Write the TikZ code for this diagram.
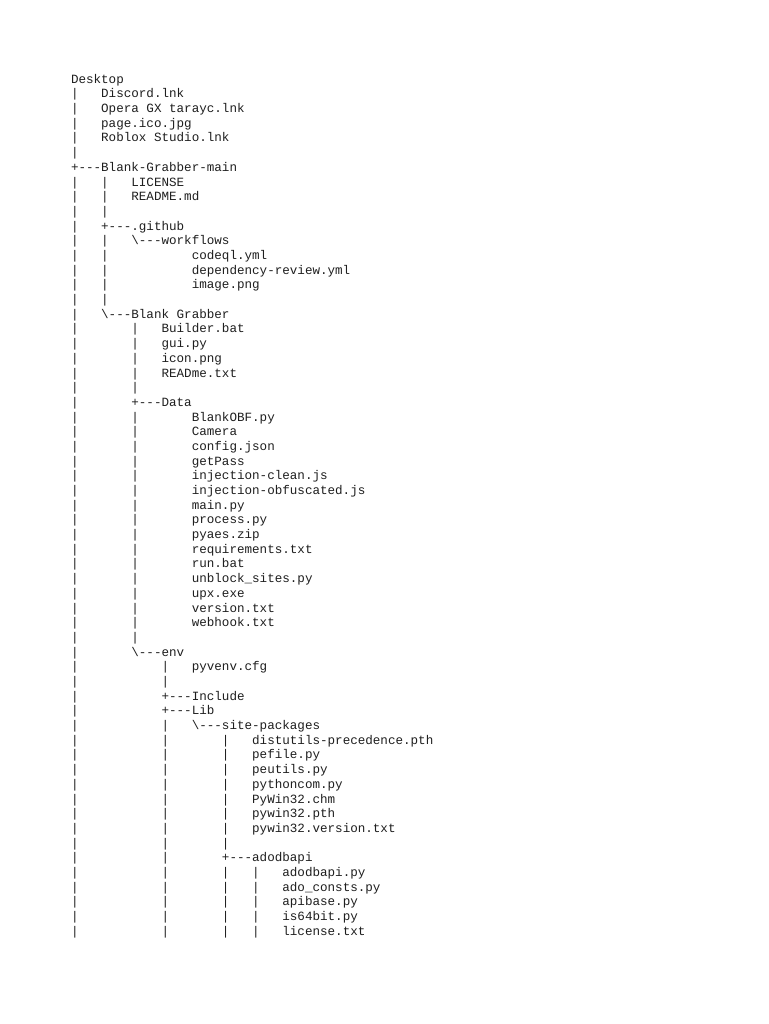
\documentclass[tikz,border=0pt]{standalone}
\usepackage{fontspec}
\setmonofont{Liberation Mono}
\tikzset{ln/.style={anchor=base west,inner sep=0pt,outer sep=0pt,font=\ttfamily\fontsize{12.58}{14}\selectfont,text=black!88}}
\newcommand{\bs}{\textbackslash}
\newcounter{ll}
\newcommand{\lin}[1]{\node[ln] (l\theltlabel) at (71,{-83.2-14.69*\value{ll}}) {\strut #1};\stepcounter{ll}}
\def\theltlabel{\arabic{ll}}
\begin{document}
\begin{tikzpicture}[x=1pt,y=1pt]
\useasboundingbox (0,0) rectangle (768,-1024);
\fill[white] (0,0) rectangle (768,-1024);
\lin{Desktop}
\lin{|~~~Discord.lnk}
\lin{|~~~Opera~GX~tarayc.lnk}
\lin{|~~~page.ico.jpg}
\lin{|~~~Roblox~Studio.lnk}
\lin{|}
\lin{+---Blank-Grabber-main}
\lin{|~~~|~~~LICENSE}
\lin{|~~~|~~~README.md}
\lin{|~~~|}
\lin{|~~~+---.github}
\lin{|~~~|~~~\bs---workflows}
\lin{|~~~|~~~~~~~~~~~codeql.yml}
\lin{|~~~|~~~~~~~~~~~dependency-review.yml}
\lin{|~~~|~~~~~~~~~~~image.png}
\lin{|~~~|}
\lin{|~~~\bs---Blank~Grabber}
\lin{|~~~~~~~|~~~Builder.bat}
\lin{|~~~~~~~|~~~gui.py}
\lin{|~~~~~~~|~~~icon.png}
\lin{|~~~~~~~|~~~READme.txt}
\lin{|~~~~~~~|}
\lin{|~~~~~~~+---Data}
\lin{|~~~~~~~|~~~~~~~BlankOBF.py}
\lin{|~~~~~~~|~~~~~~~Camera}
\lin{|~~~~~~~|~~~~~~~config.json}
\lin{|~~~~~~~|~~~~~~~getPass}
\lin{|~~~~~~~|~~~~~~~injection-clean.js}
\lin{|~~~~~~~|~~~~~~~injection-obfuscated.js}
\lin{|~~~~~~~|~~~~~~~main.py}
\lin{|~~~~~~~|~~~~~~~process.py}
\lin{|~~~~~~~|~~~~~~~pyaes.zip}
\lin{|~~~~~~~|~~~~~~~requirements.txt}
\lin{|~~~~~~~|~~~~~~~run.bat}
\lin{|~~~~~~~|~~~~~~~unblock\_sites.py}
\lin{|~~~~~~~|~~~~~~~upx.exe}
\lin{|~~~~~~~|~~~~~~~version.txt}
\lin{|~~~~~~~|~~~~~~~webhook.txt}
\lin{|~~~~~~~|}
\lin{|~~~~~~~\bs---env}
\lin{|~~~~~~~~~~~|~~~pyvenv.cfg}
\lin{|~~~~~~~~~~~|}
\lin{|~~~~~~~~~~~+---Include}
\lin{|~~~~~~~~~~~+---Lib}
\lin{|~~~~~~~~~~~|~~~\bs---site-packages}
\lin{|~~~~~~~~~~~|~~~~~~~|~~~distutils-precedence.pth}
\lin{|~~~~~~~~~~~|~~~~~~~|~~~pefile.py}
\lin{|~~~~~~~~~~~|~~~~~~~|~~~peutils.py}
\lin{|~~~~~~~~~~~|~~~~~~~|~~~pythoncom.py}
\lin{|~~~~~~~~~~~|~~~~~~~|~~~PyWin32.chm}
\lin{|~~~~~~~~~~~|~~~~~~~|~~~pywin32.pth}
\lin{|~~~~~~~~~~~|~~~~~~~|~~~pywin32.version.txt}
\lin{|~~~~~~~~~~~|~~~~~~~|}
\lin{|~~~~~~~~~~~|~~~~~~~+---adodbapi}
\lin{|~~~~~~~~~~~|~~~~~~~|~~~|~~~adodbapi.py}
\lin{|~~~~~~~~~~~|~~~~~~~|~~~|~~~ado\_consts.py}
\lin{|~~~~~~~~~~~|~~~~~~~|~~~|~~~apibase.py}
\lin{|~~~~~~~~~~~|~~~~~~~|~~~|~~~is64bit.py}
\lin{|~~~~~~~~~~~|~~~~~~~|~~~|~~~license.txt}
\end{tikzpicture}
\end{document}
